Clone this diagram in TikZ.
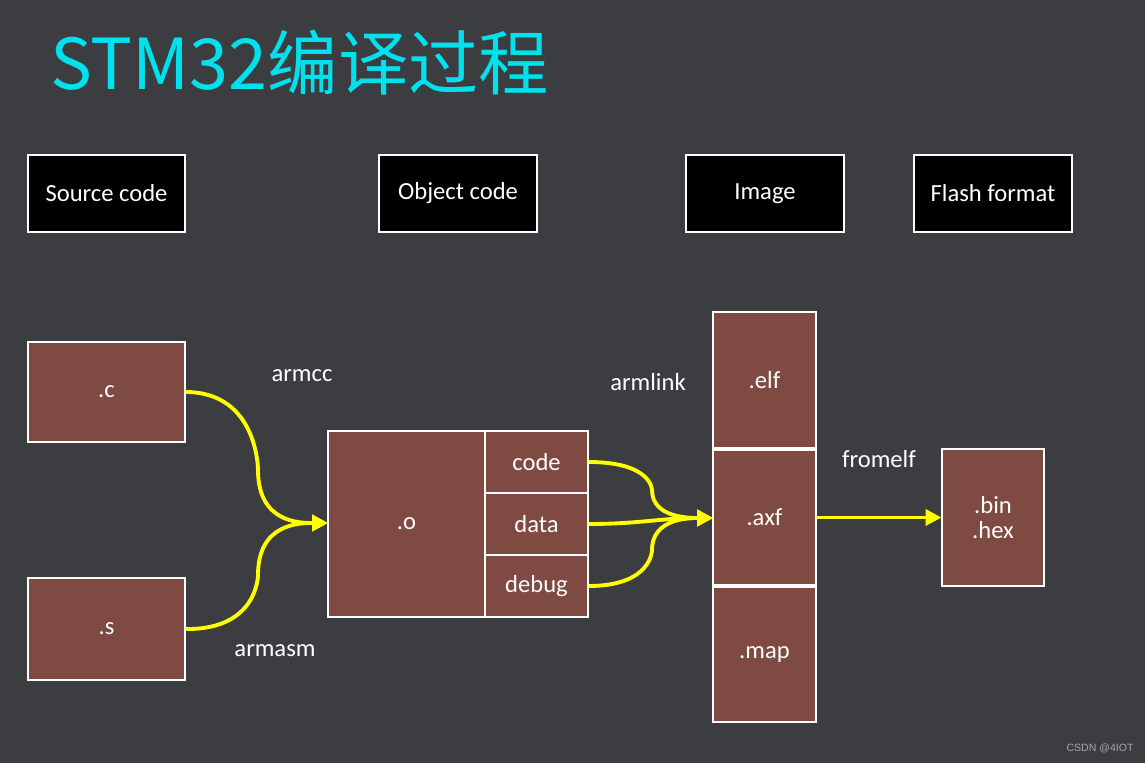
\documentclass[tikz,border=0pt]{standalone}
\usepackage{fontspec}
\setmainfont{Carlito}
\newfontfamily\cjk{Noto Sans CJK SC}
\newfontfamily\arial{Liberation Sans}
\usetikzlibrary{arrows.meta}
\definecolor{bg}{HTML}{3C3D41}
\definecolor{brn}{HTML}{7F4A42}
\definecolor{ttl}{HTML}{00E1EE}
\definecolor{yel}{HTML}{FFFF00}
\begin{document}
\begin{tikzpicture}[x=0.02cm,y=-0.02cm,
  hdr/.style={draw=white,line width=0.6pt,fill=black,text=white,font=\fontsize{14}{16}\selectfont},
  bx/.style={draw=white,line width=0.6pt,fill=brn,text=white,font=\fontsize{14}{16}\selectfont,align=center},
  lbl/.style={text=white,font=\fontsize{14}{16}\selectfont},
  ar/.style={yel,line width=2.2pt,-{Triangle[length=9pt,width=9pt]}}]
\fill[bg] (0,0) rectangle (1145,763);
\useasboundingbox (0,0) rectangle (1145,763);
\node[anchor=west,text=ttl,font=\cjk\fontsize{40}{44}\selectfont,inner sep=0] (title) at (50,63) {STM32编译过程};
\newcommand\bxat[5]{\node[#1,minimum width={(#4-#2)*0.02cm},minimum height={(#5-#3)*0.02cm},inner sep=0] at ({(#2+#4)/2},{(#3+#5)/2})}
\bxat{hdr}{28}{155}{185}{232} (h1) {Source code};
\bxat{hdr}{379}{155}{537}{232} (h2) {Object code};
\bxat{hdr}{686}{155}{844}{232} (h3) {Image};
\bxat{hdr}{914}{155}{1072}{232} (h4) {Flash format};
\bxat{bx}{28}{342}{185}{442} (c) {.c};
\bxat{bx}{28}{578}{185}{680} (s) {.s};
\bxat{bx}{328}{431}{485}{617} (o) {.o};
\bxat{bx}{485}{431}{588}{493} (code) {code};
\bxat{bx}{485}{493}{588}{555} (data) {data};
\bxat{bx}{485}{555}{588}{617} (debug) {debug};
\bxat{bx}{713}{312}{816}{448} (elf) {.elf};
\bxat{bx}{713}{450}{816}{585} (axf) {.axf};
\bxat{bx}{713}{587}{816}{722} (map) {.map};
\bxat{bx}{942}{449}{1044}{586} (bin) {.bin\\[-2pt].hex};
\node[lbl] (l1) at (302,376) {armcc};
\node[lbl] (l2) at (275,651) {armasm};
\node[lbl] (l3) at (648,382) {armlink};
\node[lbl] (l4) at (879,459) {fromelf};
\node[text=gray!70,font=\arial\fontsize{6}{7}\selectfont] (cs) at (1100,748) {CSDN @4IOT};
\coordinate (oin) at (328,523);
\coordinate (ain) at (713,518);
\draw[ar] (c.east) .. controls (258,392) and (258,470) .. (258,470) .. controls (258,523) and (300,523) .. (oin);
\draw[ar] (s.east) .. controls (258,630) and (258,575) .. (258,575) .. controls (258,523) and (300,523) .. (oin);
\draw[ar] (code.east) .. controls (652,462) and (652,490) .. (652,490) .. controls (652,518) and (690,518) .. (ain);
\draw[ar] (data.east) .. controls (640,524) and (660,518) .. (ain);
\draw[ar] (debug.east) .. controls (652,586) and (652,550) .. (652,550) .. controls (652,518) and (690,518) .. (ain);
\draw[ar] (axf.east) -- (bin.west);
\end{tikzpicture}
\end{document}
